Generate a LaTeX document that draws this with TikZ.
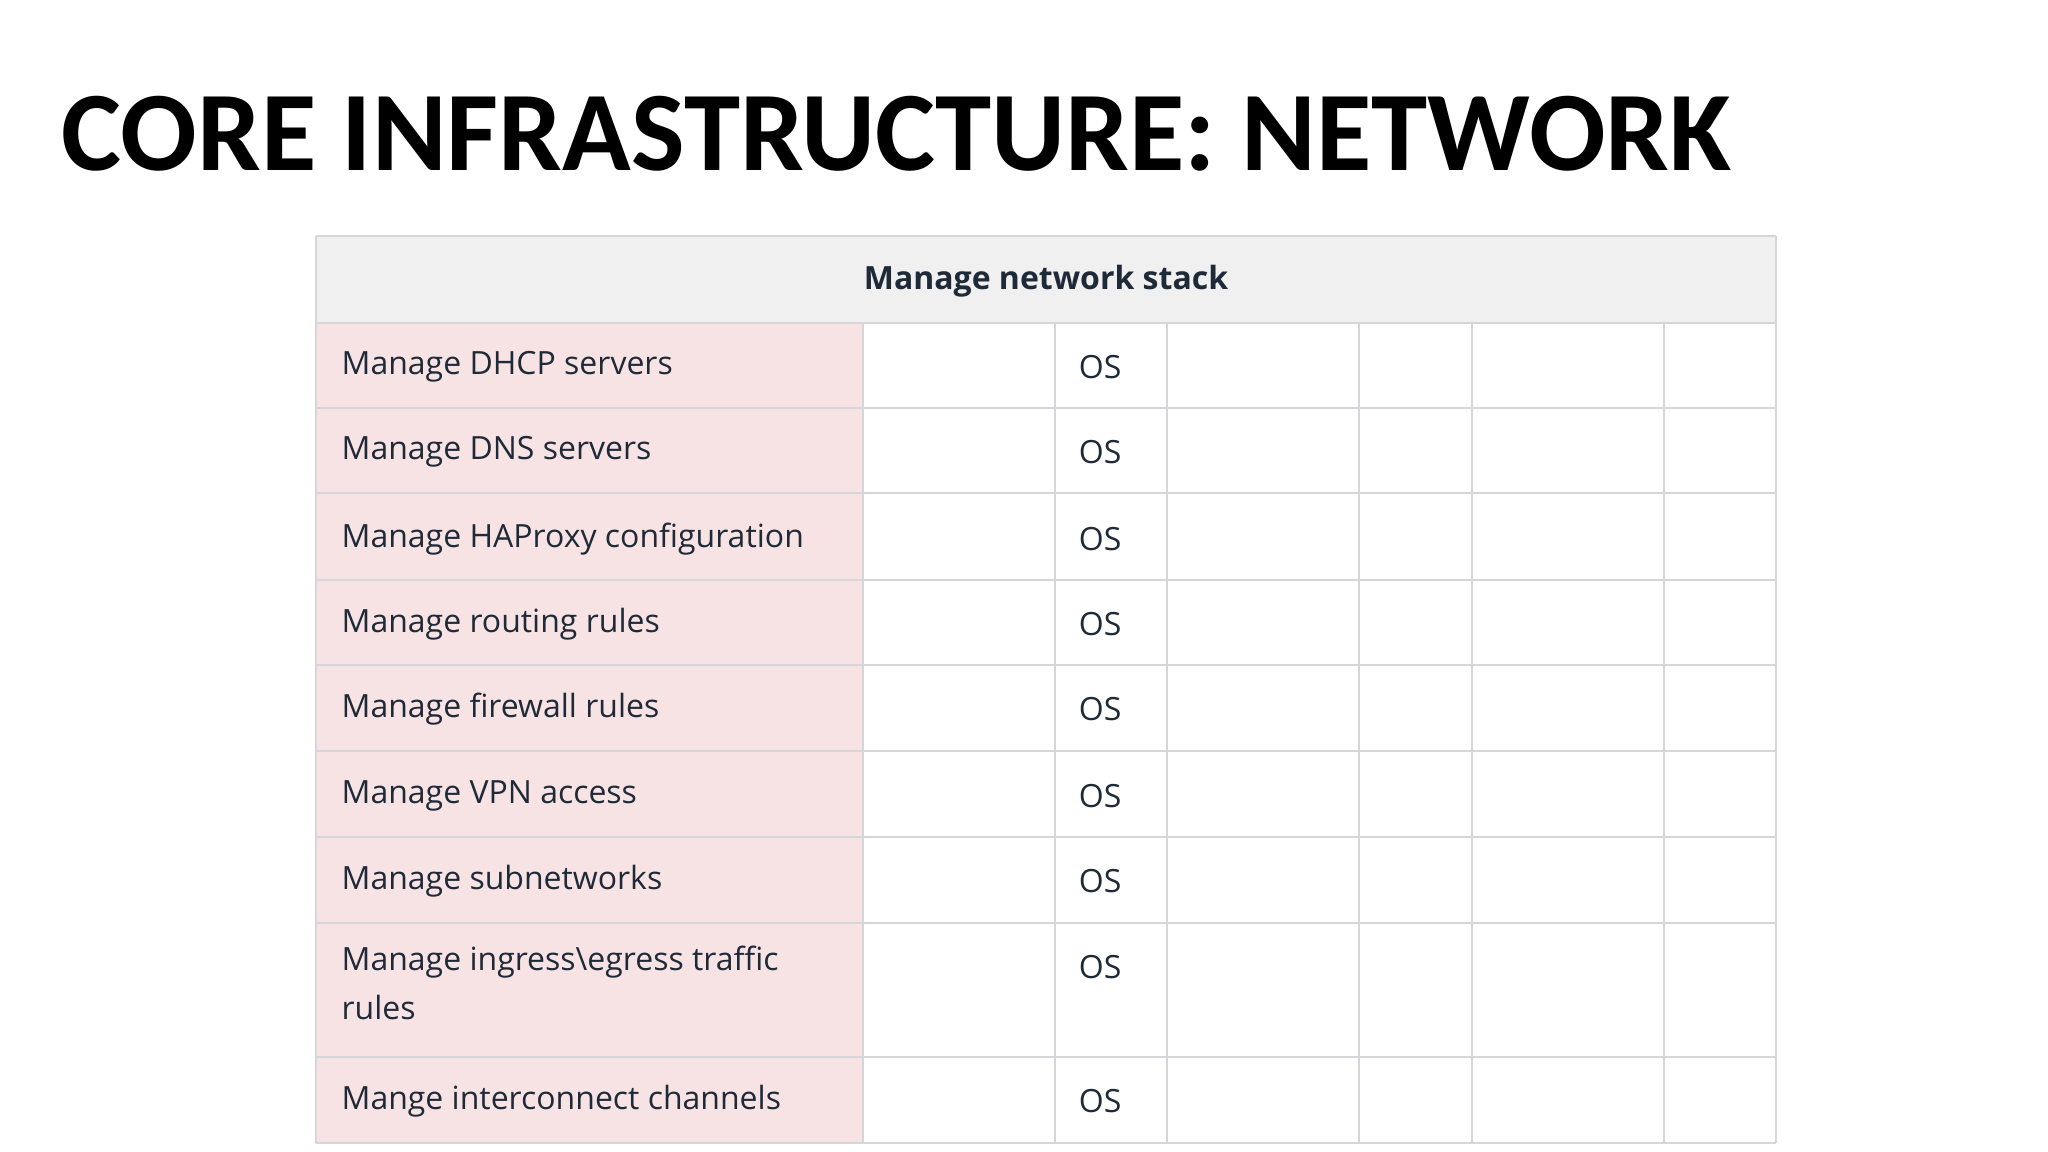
\documentclass[tikz,border=0pt]{standalone}
\usepackage{fontspec}
\setmainfont{Open Sans}
\newfontfamily\titlefont{Carlito}
\definecolor{hdr}{HTML}{F0F0F0}
\definecolor{pinkc}{HTML}{F8E3E4}
\definecolor{gridc}{HTML}{D6D6DA}
\definecolor{txt}{HTML}{1F2A38}
\begin{document}
\begin{tikzpicture}[x=1pt,y=-1pt,
  celltext/.style={anchor=west,font=\fontsize{24}{37}\selectfont,text=txt,inner sep=0pt,align=left},
  ostext/.style={anchor=west,font=\fontsize{24}{28}\selectfont,text=txt,inner sep=0pt}]
\useasboundingbox (0,0) rectangle (1536,864);
\fill[white] (0,0) rectangle (1536,864);
\node[anchor=west,inner sep=0pt,font=\titlefont\bfseries\fontsize{85}{95}\selectfont] (title) at (46,100) {CORE INFRASTRUCTURE: NETWORK};
% header
\fill[hdr] (237,177) rectangle (1332,242);
\node[font=\bfseries\fontsize{24}{28}\selectfont,text=txt] (head) at (784.5,211) {Manage network stack};
\fill[pinkc] (237,242) rectangle (647,857);
\foreach \y in {177,242,306,370,435,499,563,628,692,793,857} \draw[gridc,line width=1.5pt] (237,\y) -- (1332,\y);
\draw[gridc,line width=1.5pt] (237,177) -- (237,857);
\draw[gridc,line width=1.5pt] (1332,177) -- (1332,857);
\foreach \x in {647,791,875,1019,1104,1248} \draw[gridc,line width=1.5pt] (\x,242) -- (\x,857);
\foreach \t/\y [count=\i] in {Manage DHCP servers/275,Manage DNS servers/339,Manage HAProxy configuration/404,Manage routing rules/468,Manage firewall rules/532,Manage VPN access/597,Manage subnetworks/661,Mange interconnect channels/826} {
  \node[celltext] (r\i) at (256,\y) {\t};
  \node[ostext] (o\i) at (809,\y) {OS};
}
\node[celltext,anchor=north west] (r9) at (256,709) {Manage ingress\textbackslash egress traffic\\rules};
\node[ostext] (o9) at (809,725) {OS};
\end{tikzpicture}
\end{document}
